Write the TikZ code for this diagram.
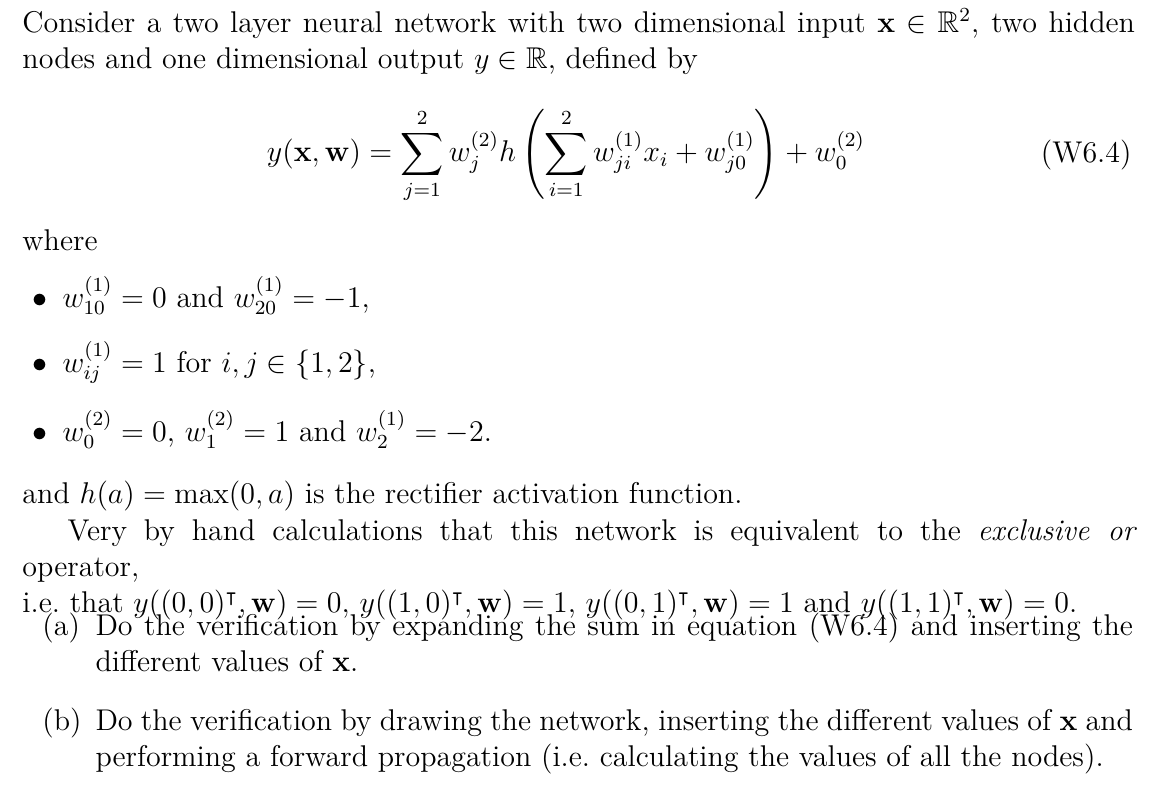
\documentclass[tikz,border=0pt]{standalone}
\usepackage{amsmath,amssymb}
\begin{document}
\begin{tikzpicture}[x=0.4pt,y=-0.4pt,
  txt/.style={anchor=base west,inner sep=0pt,font=\fontsize{12}{14.5}\selectfont,align=justify},
  para/.style={txt,text width=445pt},
  itm/.style={txt,text width=415pt}]
\path[use as bounding box,fill=white] (0,0) rectangle (1174,802);
\node[para] (p1) at (22,32) {Consider a two layer neural network with two dimensional input $\mathbf{x}\in\mathbb{R}^2$, two hidden nodes and one dimensional output $y\in\mathbb{R}$, defined by};
\node[txt,anchor=center] (eq) at (566,156) {$\displaystyle y(\mathbf{x},\mathbf{w})=\sum_{j=1}^{2} w_j^{(2)} h\left(\sum_{i=1}^{2} w_{ji}^{(1)} x_i + w_{j0}^{(1)}\right) + w_0^{(2)}$};
\node[txt,anchor=east] (tag) at (1132,155) {(W6.4)};
\node[txt] (where) at (22,250) {where};
\node[txt] (b1) at (32,307) {$\bullet$};
\node[txt] (i1) at (62,307) {$w_{10}^{(1)}=0$ and $w_{20}^{(1)}=-1$,};
\node[txt] (b2) at (32,372) {$\bullet$};
\node[txt] (i2) at (62,372) {$w_{ij}^{(1)}=1$ for $i,j\in\{1,2\}$,};
\node[txt] (b3) at (32,441) {$\bullet$};
\node[txt] (i3) at (62,441) {$w_{0}^{(2)}=0$, $w_{1}^{(2)}=1$ and $w_{2}^{(1)}=-2$.};
\node[txt] (p2) at (22,503) {and $h(a)=\max(0,a)$ is the rectifier activation function.};
\node[para] (p3) at (22,540) {\hspace*{18pt}Very by hand calculations that this network is equivalent to the \emph{exclusive or} \mbox{operator,}\linebreak i.e.\ that $y((0,0)^{\intercal},\mathbf{w})=0$, $y((1,0)^{\intercal},\mathbf{w})=1$, $y((0,1)^{\intercal},\mathbf{w})=1$ and $y((1,1)^{\intercal},\mathbf{w})=0$.};
\node[txt] (la) at (42,635) {(a)};
\node[itm] (ia) at (95,635) {Do the verification by expanding the sum in equation (W6.4) and inserting the different values of $\mathbf{x}$.};
\node[txt] (lb) at (42,730) {(b)};
\node[itm] (ib) at (95,730) {Do the verification by drawing the network, inserting the different values of $\mathbf{x}$ and performing a forward propagation (i.e.\ calculating the values of all the nodes).};
\end{tikzpicture}
\end{document}
